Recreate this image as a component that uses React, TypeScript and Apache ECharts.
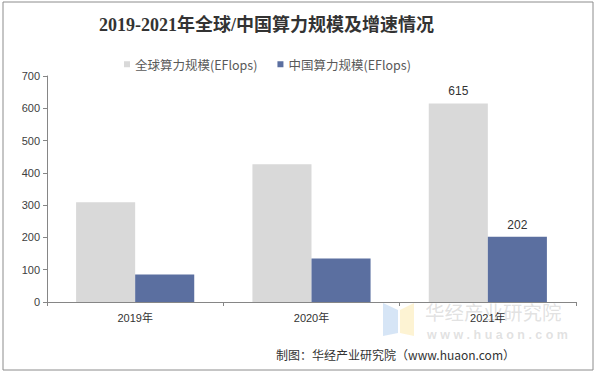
import React, { useEffect, useRef } from "react";
import * as echarts from "echarts";

const categories = ["2019年", "2020年", "2021年"];
const globalValues = [309, 427, 615];
const chinaValues = [85, 135, 202];
const seriesNames = ["全球算力规模(EFlops)", "中国算力规模(EFlops)"];
const yTicks = { min: 0, max: 700, interval: 100 };
const labeledIndex = 2;

export default function App() {
  const ref = useRef<HTMLDivElement>(null);
  useEffect(() => {
    document.body.style.margin = "0";
    const chart = echarts.init(ref.current!, null, { renderer: "svg" });
    const mk = (vals: number[]) =>
      vals.map((v, i) => ({
        value: v,
        label: {
          show: i === labeledIndex,
          position: "top",
          distance: 6,
          color: "#333",
          fontSize: 12,
          fontFamily: "'Liberation Sans', Arial, sans-serif",
        },
      }));
    chart.setOption({
      animation: false,
      backgroundColor: "#fff",
      title: {
        text: "2019-2021年全球/中国算力规模及增速情况",
        left: 94,
        top: 11,
        textStyle: {
          fontSize: 18,
          fontWeight: "bold",
          color: "#333",
          fontFamily: "'Liberation Serif', 'Noto Sans CJK SC', serif",
        },
      },
      legend: {
        data: seriesNames,
        left: 119,
        top: 53,
        icon: "rect",
        itemWidth: 6,
        itemHeight: 6,
        itemGap: 20,
        itemStyle: { borderWidth: 0 },
        textStyle: {
          fontSize: 12.5,
          color: "#595959",
          fontFamily: "'Noto Sans CJK SC', sans-serif",
        },
      },
      grid: { left: 47, right: 21, top: 76, bottom: 72, containLabel: false },
      xAxis: {
        type: "category",
        data: categories,
        axisLine: { lineStyle: { color: "#868686" } },
        axisTick: { show: true, length: 4, lineStyle: { color: "#868686" } },
        axisLabel: {
          color: "#333",
          fontSize: 11,
          margin: 10,
          fontFamily: "'Liberation Sans', 'Noto Sans CJK SC', sans-serif",
        },
      },
      yAxis: {
        type: "value",
        min: yTicks.min,
        max: yTicks.max,
        interval: yTicks.interval,
        axisLine: { show: true, lineStyle: { color: "#868686" } },
        axisTick: { show: true, length: 4, lineStyle: { color: "#868686" } },
        splitLine: { show: false },
        axisLabel: {
          color: "#404040",
          fontSize: 11,
          margin: 7,
          fontFamily: "'Liberation Sans', Arial, sans-serif",
        },
      },
      series: [
        {
          name: seriesNames[0],
          type: "bar",
          data: mk(globalValues),
          itemStyle: { color: "#d9d9d9" },
          barGap: "0%",
          barCategoryGap: "33%",
        },
        {
          name: seriesNames[1],
          type: "bar",
          data: mk(chinaValues),
          itemStyle: { color: "#5b6fa0" },
          barGap: "0%",
          barCategoryGap: "33%",
        },
      ],
      graphic: [
        {
          type: "rect",
          shape: { x: 3, y: 2, width: 590, height: 368 },
          style: { fill: "none", stroke: "#8c8c8c", lineWidth: 1 },
          silent: true,
        },
        {
          type: "polygon",
          shape: { points: [[383, 303], [398, 310], [398, 333], [383, 336]] },
          style: { fill: "rgba(120,170,225,0.3)" },
          silent: true,
        },
        {
          type: "polygon",
          shape: { points: [[400, 310], [414, 303], [414, 336], [400, 333]] },
          style: { fill: "rgba(250,215,110,0.3)" },
          silent: true,
        },
        {
          type: "text",
          x: 425,
          y: 302,
          silent: true,
          style: {
            text: "华经产业研究院",
            fontSize: 19.5,
            fill: "rgba(180,180,180,0.4)",
            fontFamily: "'Noto Sans CJK SC', sans-serif",
          },
        },
        {
          type: "text",
          x: 427,
          y: 328,
          silent: true,
          style: {
            text: "w w w . h u a o n . c o m",
            fontSize: 12.5,
            fontWeight: "bold",
            fill: "rgba(180,180,180,0.4)",
            fontFamily: "'Liberation Sans', Arial, sans-serif",
          },
        },
        {
          type: "text",
          x: 515,
          y: 348,
          silent: true,
          style: {
            text: "制图：华经产业研究院（www.huaon.com）",
            fontSize: 12,
            fill: "#333",
            align: "right",
            fontFamily: "'Noto Sans CJK SC', 'Liberation Sans', sans-serif",
          },
        },
      ],
    });
    return () => chart.dispose();
  }, []);
  return <div ref={ref} style={{ width: 597, height: 374 }} />;
}
